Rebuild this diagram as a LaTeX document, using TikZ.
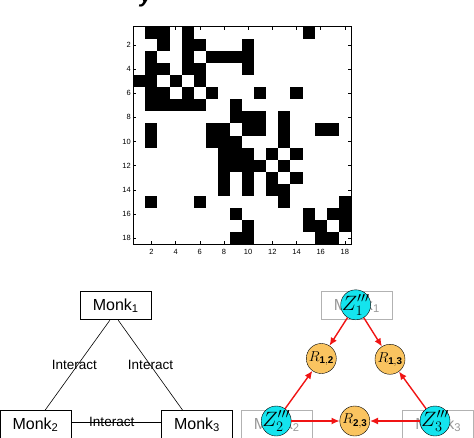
\documentclass[tikz,border=0pt]{standalone}
\usepackage{fontspec}
\setmainfont{Liberation Sans}
\usetikzlibrary{arrows.meta}
\definecolor{zcyan}{RGB}{20,228,238}
\definecolor{rorange}{RGB}{250,196,96}
\definecolor{linkred}{RGB}{240,20,20}

\begin{document}
\begin{tikzpicture}[x=1pt,y=-1pt,
    monk/.style={draw,line width=1pt,minimum width=71pt,minimum height=28pt,inner sep=0pt,font=\fontsize{16}{16}\selectfont},
    ghost/.style={monk,draw=black!30,text=black!40},
    ilabel/.style={font=\fontsize{13.5}{14}\selectfont},
    zvar/.style={circle,draw,fill=zcyan,minimum size=30pt,inner sep=0pt,font=\fontsize{21}{21}\selectfont},
    rvar/.style={circle,draw,fill=rorange,minimum size=30pt,inner sep=0pt,font=\fontsize{14}{14}\selectfont},
    link/.style={draw=linkred,line width=1.4pt,-{Latex[length=8pt,width=7pt]}},
    ticklabel/.style={inner sep=0pt,font=\fontsize{7.5}{8}\selectfont}]
  \useasboundingbox (0,0) rectangle (474,437);
  \node[anchor=south,inner sep=0pt,font=\fontsize{22}{22}\selectfont\bfseries\itshape] (ttl) at (146,7) {y};
  % interaction matrix
  \def\cw{12.09}
  \foreach \r/\cols in {1/{2,3,5,15},2/{3,5,6,10},3/{2,5,7,8,9,10},4/{2,3,5,6,10},
      5/{1,2,4,6},6/{2,3,5,7,11,14},7/{2,3,4,5,6,9},8/{9,10,11,13},
      9/{2,7,8,10,11,13,16,17},10/{2,7,8,9,13},11/{8,9,10,12,14},12/{8,9,10,11,13},
      13/{8,10,12,14},14/{8,10,12,13},15/{2,6,13,18},16/{9,15,17,18},
      17/{10,15,16,18},18/{9,10,16,17}}
    \foreach \c in \cols
      \fill (133.3+\c*\cw-\cw,26.7+\r*\cw-\cw) rectangle ++(\cw,\cw);
  \draw[line width=0.6pt] (133.3,26.7) rectangle (351,244.3);
  \foreach \i in {2,4,...,18} {
    \draw[line width=0.5pt] (133.3+\i*\cw-\cw/2,26.7) -- ++(0,3) (133.3+\i*\cw-\cw/2,244.3) -- ++(0,-3)
      (133.3,26.7+\i*\cw-\cw/2) -- ++(3,0) (351,26.7+\i*\cw-\cw/2) -- ++(-3,0);
    \node[ticklabel,anchor=east] at (131,26.7+\i*\cw-\cw/2) {\i};
    \node[ticklabel] at (133.3+\i*\cw-\cw/2,252) {\i};
  }
  % monks and their interactions
  \node[monk] (m1) at (115.8,305.8) {Monk\textsubscript{1}};
  \node[monk] (m2) at (35.5,424.8) {Monk\textsubscript{2}};
  \node[monk] (m3) at (197,424.8) {Monk\textsubscript{3}};
  \draw[line width=0.6pt] ([xshift=-6pt]m1.south) -- node[ilabel,xshift=-3pt]{Interact} ([xshift=9.5pt]m2.north);
  \draw[line width=0.6pt] ([xshift=2.5pt]m1.south) -- node[ilabel]{Interact} ([xshift=-14.3pt]m3.north);
  \draw[line width=0.6pt] ([yshift=3pt]m2.east) -- node[ilabel,xshift=-4.5pt]{Interact} ([yshift=3pt]m3.west);
  % model over the same layout
  \node[ghost] (g1) at (356.8,305.8) {Monk\textsubscript{1}};
  \node[ghost] (g2) at (276.7,424.8) {Monk\textsubscript{2}};
  \node[ghost] (g3) at (438.2,424.8) {Monk\textsubscript{3}};
  \node[zvar] (z1) at (355.7,304.8) {\makebox[0pt]{$Z_1^{\prime\prime\prime}$}};
  \node[zvar] (z2) at (276.2,421) {\makebox[0pt]{$Z_2^{\prime\prime\prime}$}};
  \node[zvar] (z3) at (435,421) {\makebox[0pt]{$Z_3^{\prime\prime\prime}$}};
  \node[rvar] (r12) at (321.3,358.5) {\makebox[0pt]{$R_{\mathbf{1,2}}$}};
  \node[rvar] (r13) at (390,359.3) {\makebox[0pt]{$R_{\mathbf{1,3}}$}};
  \node[rvar] (r23) at (354.8,421) {\makebox[0pt]{$R_{\mathbf{2,3}}$}};
  \draw[link] (z1) -- (r12);
  \draw[link] (z1) -- (r13);
  \draw[link] (z2) -- (r12);
  \draw[link] (z3) -- (r13);
  \draw[link] (z2) -- (r23);
  \draw[link] (z3) -- (r23);
\end{tikzpicture}
\end{document}
